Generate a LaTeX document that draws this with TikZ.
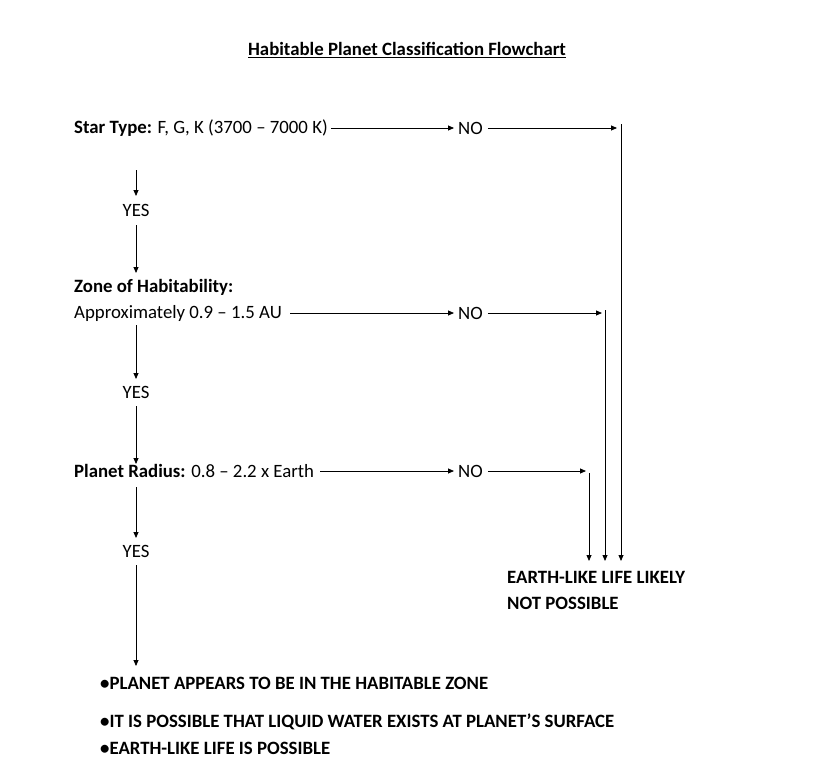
\documentclass[tikz,border=0pt]{standalone}
\usepackage{fontspec}
\setmainfont{Carlito}
\usetikzlibrary{arrows.meta}
\begin{document}
\begin{tikzpicture}[x=1bp,y=-1bp,
  txt/.style={inner sep=0pt,anchor=west,font=\fontsize{18.8bp}{20bp}\selectfont},
  bld/.style={txt,font=\fontsize{18.8bp}{20bp}\selectfont\bfseries},
  arr/.style={draw,line width=0.8bp,-{Triangle[length=6bp,width=5bp]}},
  ln/.style={draw,line width=0.8bp}]
\useasboundingbox (0,0) rectangle (815,778);
\node[bld,anchor=center] (title) at (407,50) {\underline{Habitable Planet Classification Flowchart}};
% row 1
\node[txt] (s1) at (74,128) {\textbf{Star Type:} F, G, K (3700 -- 7000 K)};
\node[txt] (n1) at (458,128) {NO};
\draw[arr] ([xshift=3bp]s1.east) -- ([xshift=-4bp]n1.west);
\coordinate (c1) at (617,128);
\draw[arr] ([xshift=5bp]n1.east) -- (c1);
\coordinate (v1t) at (621,124);
\coordinate (v1b) at (621,561);
\draw[arr] (v1t) -- (v1b);
\coordinate (a1) at (136,170);
\node[txt,anchor=center] (y1) at (136,210) {YES};
\coordinate (a1e) at (136,196);
\draw[arr] (a1) -- (a1e);
\coordinate (b1) at (136,225);
\coordinate (b1e) at (136,273);
\node[bld] (s2a) at (74,287) {Zone of Habitability:};
\draw[arr] (b1) -- (b1e);
% row 2
\node[txt] (s2) at (74,313) {Approximately 0.9 -- 1.5 AU};
\node[txt] (n2) at (458,313) {NO};
\draw[arr] ([xshift=8bp]s2.east) -- ([xshift=-4bp]n2.west);
\coordinate (c2) at (602,313);
\draw[arr] ([xshift=5bp]n2.east) -- (c2);
\draw[arr] (605,310) -- (605,561);
\node[txt,anchor=center] (y2) at (136,392) {YES};
\draw[arr] (136,325) -- (136,379);
\draw[arr] (136,406) -- (136,464);
% row 3
\node[txt] (s3) at (74,471) {\textbf{Planet Radius:} 0.8 -- 2.2 x Earth};
\node[txt] (n3) at (458,471) {NO};
\draw[arr] ([xshift=6bp]s3.east) -- ([xshift=-4bp]n3.west);
\coordinate (c3) at (586,471);
\draw[arr] ([xshift=5bp]n3.east) -- (c3);
\draw[arr] (589,473) -- (589,561);
\node[txt,anchor=center] (y3) at (136,551) {YES};
\draw[arr] (136,487) -- (136,538);
\draw[arr] (136,565) -- (136,666);
% results
\node[bld] (r1) at (507,577) {EARTH-LIKE LIFE LIKELY};
\node[bld] (r2) at (507,603) {NOT POSSIBLE};
\node[bld] (p1) at (100,683) {•PLANET APPEARS TO BE IN THE HABITABLE ZONE};
\node[bld] (p2) at (100,722) {•IT IS POSSIBLE THAT LIQUID WATER EXISTS AT PLANET’S SURFACE};
\node[bld] (p3) at (100,748) {•EARTH-LIKE LIFE IS POSSIBLE};
\end{tikzpicture}
\end{document}
